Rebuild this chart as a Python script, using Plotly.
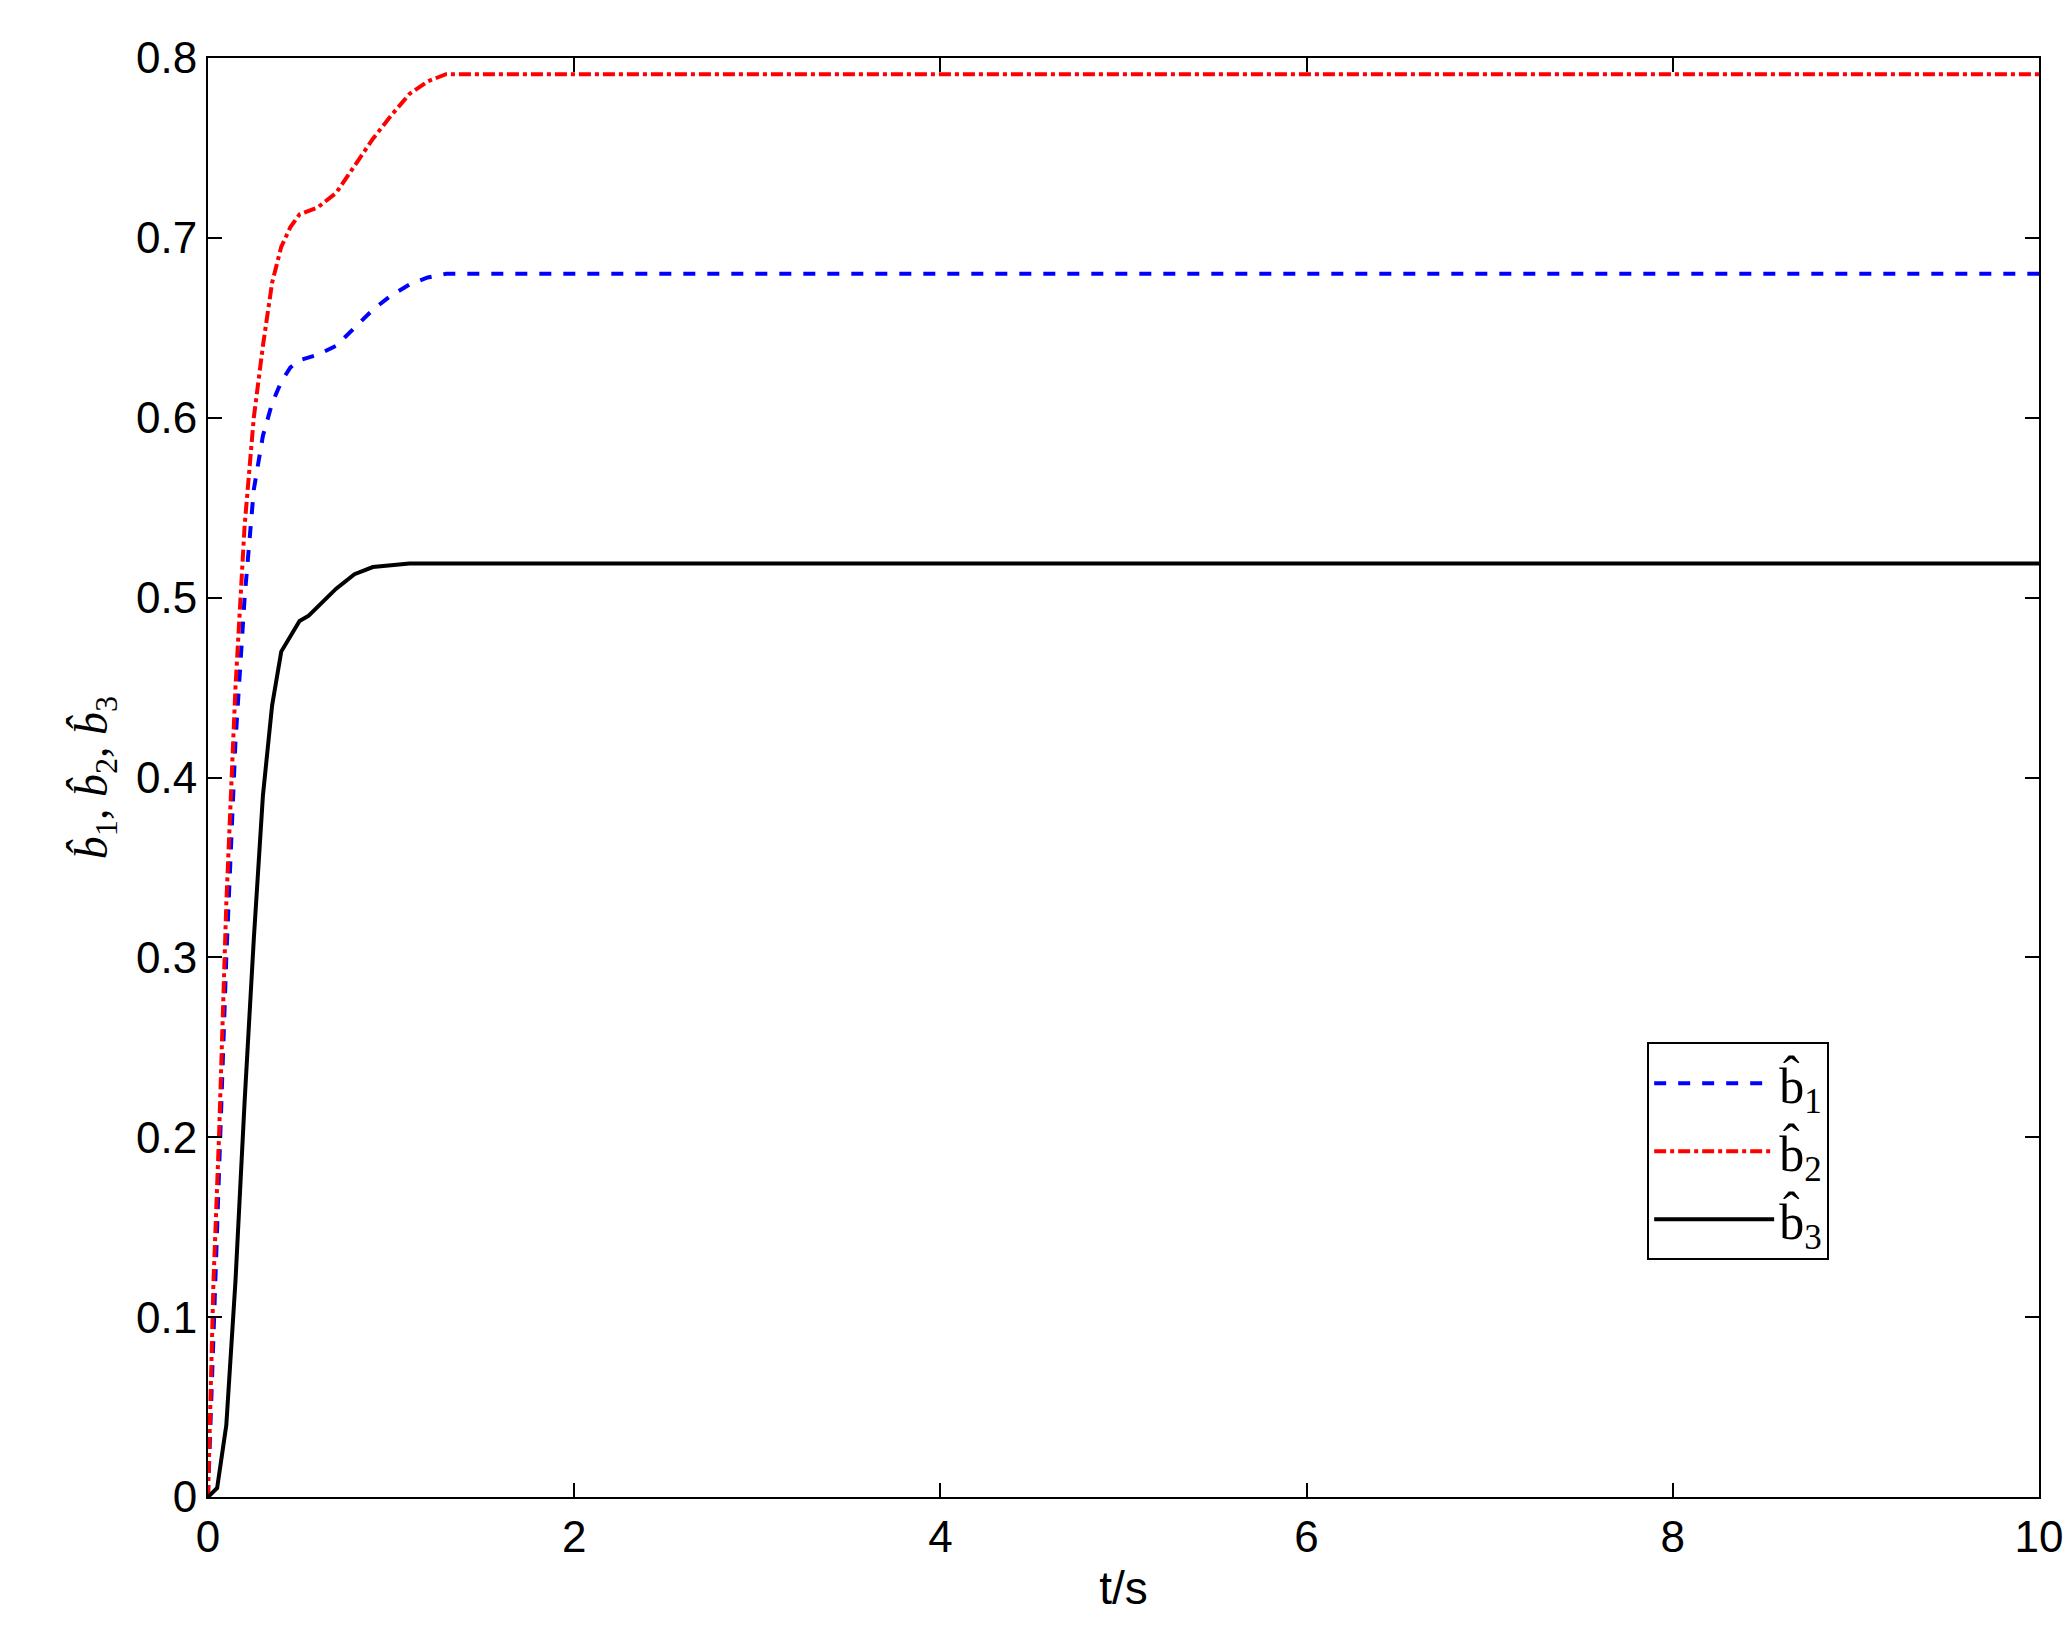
import plotly.graph_objects as go

t1 = [0,0.05,0.1,0.15,0.2,0.25,0.3,0.35,0.4,0.45,0.5,0.6,0.7,0.8,0.9,1.0,1.1,1.2,1.3,1.4,10]
b1 = [0,0.15,0.3,0.42,0.5,0.56,0.59,0.608,0.62,0.628,0.632,0.635,0.64,0.65,0.66,0.668,0.674,0.678,0.68,0.68,0.68]
t2 = [0,0.03,0.06,0.1,0.15,0.2,0.25,0.3,0.35,0.4,0.45,0.5,0.6,0.7,0.8,0.9,1.0,1.1,1.2,1.3,1.4,10]
b2 = [0,0.12,0.2,0.33,0.45,0.54,0.6,0.64,0.675,0.695,0.706,0.713,0.717,0.725,0.74,0.755,0.768,0.78,0.787,0.791,0.791,0.791]
t3 = [0,0.05,0.1,0.15,0.2,0.25,0.3,0.35,0.4,0.45,0.5,0.55,0.6,0.7,0.8,0.9,1.0,1.1,1.3,10]
b3 = [0,0.005,0.04,0.12,0.22,0.31,0.39,0.44,0.47,0.478,0.487,0.49,0.495,0.505,0.513,0.517,0.518,0.519,0.519,0.519]

fig = go.Figure()
fig.add_trace(go.Scatter(x=t1, y=b1, mode="lines", name="b̂<sub>1</sub>", line=dict(color="blue", width=4, dash="dash")))
fig.add_trace(go.Scatter(x=t2, y=b2, mode="lines", name="b̂<sub>2</sub>", line=dict(color="red", width=4, dash="dashdot")))
fig.add_trace(go.Scatter(x=t3, y=b3, mode="lines", name="b̂<sub>3</sub>", line=dict(color="black", width=4)))

ax = dict(showgrid=False, zeroline=False, showline=True, linecolor="black", linewidth=2, mirror="ticks",
          ticks="inside", ticklen=14, tickwidth=2, tickcolor="black", tickfont=dict(size=44, family="Liberation Sans", color="black"))
fig.update_layout(
    width=2071, height=1647, paper_bgcolor="white", plot_bgcolor="white",
    margin=dict(l=200, r=40, t=50, b=158),
    xaxis=dict(range=[0,10], dtick=2, title=dict(text="t/s", font=dict(size=46, family="Liberation Sans", color="black"), standoff=12), **ax),
    yaxis=dict(range=[0,0.8], dtick=0.1, title=dict(text="<i>b̂</i><sub>1</sub>, <i>b̂</i><sub>2</sub>, <i>b̂</i><sub>3</sub>", font=dict(size=46, family="Liberation Serif", color="black"), standoff=14), **ax),
    legend=dict(x=0.786, y=0.316, xanchor="left", yanchor="top", bordercolor="black", borderwidth=2, bgcolor="white",
                font=dict(size=50, family="Liberation Serif", color="black"), itemwidth=120, tracegroupgap=45,
                entrywidth=260),
)
fig.write_html("out.html")
